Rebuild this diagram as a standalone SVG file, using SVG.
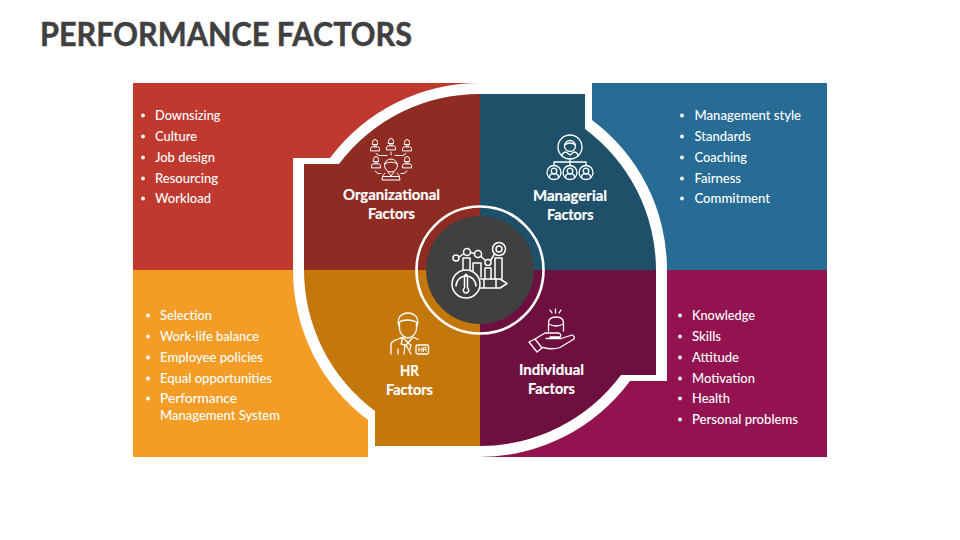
<svg xmlns="http://www.w3.org/2000/svg" width="960" height="540" viewBox="0 0 960 540">
<style>
.t{font-family:Lato,"Liberation Sans",sans-serif}
.title{font-size:33px;font-weight:700;fill:#404040;stroke:#404040;stroke-width:.5px}
.li{font-size:13.500px;font-weight:500;fill:#fff}
.h{font-size:15.500px;font-weight:700;fill:#fff;stroke:#fff;stroke-width:.2px}
.ic{fill:none;stroke:#fff;stroke-width:1.300;stroke-linecap:round;stroke-linejoin:round}
.b{fill:#fff}
</style>
<defs>
<g id="mini"><path d="M-2.500,-3.500A2.500,3 0 0 1 2.500,-3.500V-1.500H-2.500ZM-1,-1V.8M1,-1V.8M-4.500,4.500V2.800Q-4.500,1 -2.500,.8H2.500Q4.500,1 4.500,2.800V4.500Z"/></g>
<g id="circ"><circle r="7"/><circle cy="-1.500" r="2.800"/><path d="M-4.600,5Q-4.500,1.500 -1.500,1.300H1.500Q4.500,1.500 4.600,5"/></g>
</defs>
<rect width="960" height="540" fill="#fff"/>
<text class="t title" x="40" y="45.500" textLength="372" lengthAdjust="spacingAndGlyphs">PERFORMANCE FACTORS</text>
<g id="background">
<rect x="133" y="83" width="347" height="187" fill="#c0392f"/>
<rect x="480" y="83" width="347" height="187" fill="#276c95"/>
<rect x="133" y="270" width="347" height="187" fill="#f39c26"/>
<rect x="480" y="270" width="347" height="187" fill="#921350"/>
<path fill="#fff" d="M480,83A187,187 0 0 0 330,158H293V270A187,187 0 0 0 368,420V457H480A187,187 0 0 0 630,381H667V270A187,187 0 0 0 592,120V83Z"/>
</g>
<g id="organizational">
<path fill="#8e2b22" d="M480,94A176,176 0 0 0 339,164H304V270H480Z"/>
<g class="ic" style="stroke-width:1">
<use href="#mini" x="375" y="146"/><use href="#mini" x="391" y="145"/><use href="#mini" x="407" y="146"/>
<use href="#mini" x="376" y="163"/><use href="#mini" x="407" y="163"/>
<circle cx="391" cy="165.500" r="6.500"/>
<path d="M384.500,164Q391,160 397.500,164M385,173Q382,175 382,180H400Q400,175 397,173M388,172L391,176L394,172M383,176.500H399M375,171L378,173.500H381M407,171L404,173.500H401M376,153.500L379,155.500H387M406,153.500L403,155.500H395M391,152V155"/>
</g>
<text class="t h" x="343" y="200" textLength="97" lengthAdjust="spacingAndGlyphs">Organizational</text>
<text class="t h" x="368" y="219" textLength="47" lengthAdjust="spacingAndGlyphs">Factors</text>
</g>
<g id="managerial">
<path fill="#1f5069" d="M480,94H585V129A176,176 0 0 1 656,270H480Z"/>
<g class="ic">
<circle cx="570" cy="147" r="12"/>
<circle cx="570" cy="146" r="5.500"/>
<path d="M564.500,145Q570,141 575.500,145M562,156Q562,152.500 566,152L570,155L574,152Q578,152.500 578,156M570,159V162M554,165V162H586V165M570,162V165"/>
<use href="#circ" x="554" y="172.500"/><use href="#circ" x="570" y="172.500"/><use href="#circ" x="586" y="172.500"/>
</g>
<text class="t h" x="533" y="201" textLength="74" lengthAdjust="spacingAndGlyphs">Managerial</text>
<text class="t h" x="547" y="220" textLength="46.500" lengthAdjust="spacingAndGlyphs">Factors</text>
</g>
<g id="hr">
<path fill="#c4770a" d="M304,270A176,176 0 0 0 375,411V446H480V270Z"/>
<g class="ic">
<path d="M399.500,322V329Q400,336 408,338Q416,336 416.500,329V322Q412,320 408,320Q402,320 399.500,322Z"/>
<path d="M399.500,327Q397,322 399.500,317Q403,313 408,313Q413,313 416.500,317Q419,322 416.500,327"/>
<path d="M391,354V344Q392,341 396,340L403,337L408,343L413,337L418,339.500M403,337L401,344L405,345L404,354M408,343L406,345L411,354M408,343L411,345L410,349M398,354V349"/>
<rect x="416" y="345" width="12.500" height="9" rx="1.500"/>
<path d="M419,347.500V351.500M422,347.500V351.500M419,349.500H422M423.500,351.500V347.500H426V349.500H423.500M425,349.500L426.500,351.500" style="stroke-width:.9"/>
</g>
<text class="t h" x="400" y="376" textLength="19" lengthAdjust="spacingAndGlyphs">HR</text>
<text class="t h" x="386" y="395" textLength="47" lengthAdjust="spacingAndGlyphs">Factors</text>
</g>
<g id="individual">
<path fill="#6d0f3f" d="M480,270H656V375H621A176,176 0 0 1 480,446Z"/>
<g class="ic">
<path d="M548.500,331V323Q548.500,317 556,317Q563.500,317 563.500,323V331M548.500,324Q556,328 563.500,324M550,310L552,313M555.500,309V313M561,310L559,313"/>
<path d="M529,342L537,352L542,348L535,339ZM535,339L545,333H559Q562,335 560,337H550M546,338.500H561L572,335Q575,336 574,339L560,347.500Q552,350 543,347.500"/>
</g>
<text class="t h" x="519" y="375" textLength="65" lengthAdjust="spacingAndGlyphs">Individual</text>
<text class="t h" x="528" y="394" textLength="47" lengthAdjust="spacingAndGlyphs">Factors</text>
</g>
<g id="center">
<circle cx="480" cy="270" r="63.500" fill="none" stroke="#fff" stroke-width="2.600"/>
<circle cx="480" cy="270" r="54" fill="#404040"/>
<g class="ic" style="stroke-width:1.500">
<circle cx="456" cy="258" r="3"/><circle cx="467" cy="252" r="3.500"/><circle cx="478" cy="254" r="3.500"/><circle cx="488" cy="262.500" r="3"/>
<circle cx="499" cy="249" r="6.500"/><circle cx="499" cy="249" r="3"/>
<path d="M459,257L463.500,254M470.500,252.500L474.500,253.500M481,256.500L485.500,260.500M490.500,260.500L494.500,254"/>
<path d="M463,270V258H470V270M473,271V263H481V277M485,279V268H491V279M495,279V258H502V279"/>
<circle cx="466" cy="284" r="14"/>
<path d="M456,286A10,10 0 0 1 476,286"/>
<path d="M464.500,288V276Q466,272.500 467.500,276V288A2.700,2.700 0 1 1 464.500,288Z"/>
<path d="M480,279H500L507,283.500L500,288H480M484,279V288M496,279V288"/>
</g>
</g>
<g id="list-organizational">
<g class="b"><circle cx="143" cy="115.500" r="1.900"/><circle cx="143" cy="136.500" r="1.900"/><circle cx="143" cy="157.500" r="1.900"/><circle cx="143" cy="178.500" r="1.900"/><circle cx="143" cy="198.500" r="1.900"/></g>
<text class="t li" x="155" y="120" textLength="65.500" lengthAdjust="spacingAndGlyphs">Downsizing</text>
<text class="t li" x="155" y="141" textLength="42" lengthAdjust="spacingAndGlyphs">Culture</text>
<text class="t li" x="155" y="162" textLength="60" lengthAdjust="spacingAndGlyphs">Job design</text>
<text class="t li" x="155" y="183" textLength="63" lengthAdjust="spacingAndGlyphs">Resourcing</text>
<text class="t li" x="155" y="203" textLength="56" lengthAdjust="spacingAndGlyphs">Workload</text>
</g>
<g id="list-managerial">
<g class="b"><circle cx="682" cy="115.500" r="1.900"/><circle cx="682" cy="136.500" r="1.900"/><circle cx="682" cy="157.500" r="1.900"/><circle cx="682" cy="178.500" r="1.900"/><circle cx="682" cy="198.500" r="1.900"/></g>
<text class="t li" x="694.500" y="120" textLength="106.500" lengthAdjust="spacingAndGlyphs">Management style</text>
<text class="t li" x="694.500" y="141" textLength="56.500" lengthAdjust="spacingAndGlyphs">Standards</text>
<text class="t li" x="694.500" y="162" textLength="52.500" lengthAdjust="spacingAndGlyphs">Coaching</text>
<text class="t li" x="694.500" y="183" textLength="46.500" lengthAdjust="spacingAndGlyphs">Fairness</text>
<text class="t li" x="694.500" y="203" textLength="75.500" lengthAdjust="spacingAndGlyphs">Commitment</text>
</g>
<g id="list-hr">
<g class="b"><circle cx="148" cy="315.500" r="1.900"/><circle cx="148" cy="336.500" r="1.900"/><circle cx="148" cy="357.500" r="1.900"/><circle cx="148" cy="378.500" r="1.900"/><circle cx="148" cy="398.500" r="1.900"/></g>
<text class="t li" x="160" y="320" textLength="52" lengthAdjust="spacingAndGlyphs">Selection</text>
<text class="t li" x="160" y="341" textLength="99" lengthAdjust="spacingAndGlyphs">Work-life balance</text>
<text class="t li" x="160" y="362" textLength="103" lengthAdjust="spacingAndGlyphs">Employee policies</text>
<text class="t li" x="160" y="383" textLength="112" lengthAdjust="spacingAndGlyphs">Equal opportunities</text>
<text class="t li" x="160" y="403" textLength="77" lengthAdjust="spacingAndGlyphs">Performance</text>
<text class="t li" x="160" y="420" textLength="120" lengthAdjust="spacingAndGlyphs">Management System</text>
</g>
<g id="list-individual">
<g class="b"><circle cx="680" cy="315.500" r="1.900"/><circle cx="680" cy="336.500" r="1.900"/><circle cx="680" cy="357.500" r="1.900"/><circle cx="680" cy="378.500" r="1.900"/><circle cx="680" cy="398.500" r="1.900"/><circle cx="680" cy="419.500" r="1.900"/></g>
<text class="t li" x="692" y="320" textLength="63" lengthAdjust="spacingAndGlyphs">Knowledge</text>
<text class="t li" x="692" y="341" textLength="29" lengthAdjust="spacingAndGlyphs">Skills</text>
<text class="t li" x="692" y="362" textLength="47" lengthAdjust="spacingAndGlyphs">Attitude</text>
<text class="t li" x="692" y="383" textLength="63" lengthAdjust="spacingAndGlyphs">Motivation</text>
<text class="t li" x="692" y="403" textLength="38" lengthAdjust="spacingAndGlyphs">Health</text>
<text class="t li" x="692" y="424" textLength="106" lengthAdjust="spacingAndGlyphs">Personal problems</text>
</g>
<g id="connectors"/>
</svg>
